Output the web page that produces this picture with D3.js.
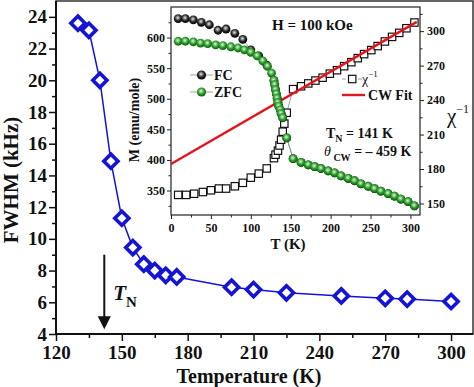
<!DOCTYPE html>
<html>
<head>
<meta charset="utf-8">
<script src="https://cdn.jsdelivr.net/npm/d3@7"></script>
<style>
body { margin: 0; background: #fff; }
svg text { font-family: "Liberation Serif", "Times New Roman", serif; font-weight: bold; fill: #111; }
</style>
</head>
<body>
<div class="wrapper"></div>
<script>
// main plot: NMR linewidth vs temperature
var tempK = [130, 135, 140, 145, 150, 155, 160, 165, 170, 175, 200, 210, 225, 250, 270, 280, 300];
var fwhm = [23.6, 23.15, 20.0, 14.9, 11.3, 9.45, 8.4, 8.0, 7.7, 7.6, 6.95, 6.8, 6.6, 6.4, 6.25, 6.2, 6.05];
var xTicks = [120, 150, 180, 210, 240, 270, 300];
var yTicks = [4, 6, 8, 10, 12, 14, 16, 18, 20, 22, 24];
var tnArrow = [142, 9.0, 4.3]; // T, from, to

// inset: magnetisation FC / ZFC and inverse susceptibility
var fcT = [9, 18, 28, 38, 48, 59, 69, 80, 90, 100, 110, 120, 129, 130, 131, 132, 133, 134, 135, 137, 138, 140, 145,
  153, 163, 172, 180, 188, 197, 205, 213, 222, 230, 238, 247, 255, 263, 272, 280, 288, 297, 305];
var fcM = [631, 631, 629, 625, 621, 612, 614, 607, 597, 580, 570, 555, 530, 523, 515, 508, 501, 494, 488, 482, 476, 469, 436,
  402, 396, 392, 389, 386, 382, 379, 374, 370, 366, 361, 357, 353, 349, 345, 341, 336, 332, 325];
var zfcT = [9, 18, 28, 37, 46, 56, 65, 75, 84, 92, 100, 108, 115, 121, 126,
  129, 130, 131, 132, 133, 134, 135, 137, 138, 140, 145,
  153, 163, 172, 180, 188, 197, 205, 213, 222, 230, 238, 247, 255, 263, 272, 280, 288, 297, 305];
var zfcM = [594, 594, 593, 591, 590, 588, 587, 585, 583, 580, 576, 570, 562, 553, 542,
  530, 523, 515, 508, 501, 494, 488, 482, 476, 469, 436,
  402, 396, 392, 389, 386, 382, 379, 374, 370, 366, 361, 357, 353, 349, 345, 341, 336, 332, 325];
var chiT = [9, 19, 29, 40, 50, 60, 69, 80, 90, 100, 110, 120,
  129, 131, 134, 136, 138, 140, 142, 145,
  153, 163, 172, 181, 190, 199, 208, 217, 226, 234, 242, 251, 259, 268, 277, 286, 295, 305];
var chiInv = [157.5, 157.5, 158.5, 160, 161.5, 163, 163, 165, 168, 172.5, 176, 180.5,
  189.5, 192.5, 196, 200.5, 205.5, 212.5, 219.5, 229,
  249.5, 252, 254.5, 257, 259.5, 263, 266, 269.5, 273, 276.5, 280, 283.5, 287, 291, 295, 298.5, 302.5, 307.5];
var cwTheta = -459, cwC = 2.49, cwRange = [0, 308];
var insetXTicks = [0, 50, 100, 150, 200, 250, 300];
var insetMTicks = [350, 400, 450, 500, 550, 600];
var insetChiTicks = [150, 180, 210, 240, 270, 300];

var BLUE = "#1414d6", RED = "#e3141c";

var svg = d3.select(".wrapper")
  .append("svg")
    .attr("width", 474)
    .attr("height", 387);

var defs = svg.append("defs");
function ball(id, c0, c1, c2) {
  var g = defs.append("radialGradient").attr("id", id)
    .attr("cx", "45%").attr("cy", "40%").attr("r", "60%");
  g.append("stop").attr("offset", "0%").attr("stop-color", c0);
  g.append("stop").attr("offset", "55%").attr("stop-color", c1);
  g.append("stop").attr("offset", "100%").attr("stop-color", c2);
}
ball("gBlack", "#e8e8e8", "#2a2a2a", "#000");
ball("gGreen", "#e6f5e0", "#2c9e2c", "#0b5a0b");

// ---------- main plot ----------
var x = d3.scaleLinear().domain([120, 310]).range([56, 473]);
var y = d3.scaleLinear().domain([4, 25]).range([334, 1]);

svg.append("rect")
  .attr("x", x.range()[0]).attr("y", y.range()[1])
  .attr("width", x.range()[1] - x.range()[0])
  .attr("height", y.range()[0] - y.range()[1])
  .attr("fill", "none").attr("stroke", "#333").attr("stroke-width", 1.5);

function styleAxis(g, size) {
  g.select(".domain").remove();
  g.selectAll("line").attr("stroke", "#111").attr("stroke-width", 1.5);
  g.selectAll("text").style("font-size", size + "px").attr("fill", "#111");
}

var minorX = d3.range(135, 310, 30);
svg.append("g").attr("transform", "translate(0," + y.range()[0] + ")")
  .call(d3.axisBottom(x).tickValues(minorX).tickSize(4).tickFormat(""))
  .call(styleAxis, 19);
svg.append("g").attr("transform", "translate(0," + y.range()[0] + ")")
  .call(d3.axisBottom(x).tickValues(xTicks).tickSize(7).tickPadding(5))
  .call(styleAxis, 19);

var minorY = d3.range(5, 25, 2);
svg.append("g").attr("transform", "translate(" + x.range()[0] + ",0)")
  .call(d3.axisLeft(y).tickValues(minorY).tickSize(4).tickFormat(""))
  .call(styleAxis, 19);
svg.append("g").attr("transform", "translate(" + x.range()[0] + ",0)")
  .call(d3.axisLeft(y).tickValues(yTicks).tickSize(7).tickPadding(2))
  .call(styleAxis, 19);

// axis lines
svg.append("line").attr("x1", 56).attr("x2", 473).attr("y1", 334).attr("y2", 334)
  .attr("stroke", "#111").attr("stroke-width", 2);
svg.append("line").attr("x1", 56).attr("x2", 56).attr("y1", 1).attr("y2", 334)
  .attr("stroke", "#111").attr("stroke-width", 2);

svg.append("text").attr("x", 249).attr("y", 383)
  .attr("text-anchor", "middle").style("font-size", "20px")
  .text("Temperature (K)");
svg.append("text").attr("transform", "translate(18,180) rotate(-90)")
  .attr("text-anchor", "middle").style("font-size", "21px")
  .text("FWHM (kHz)");

var mainData = tempK.map(function(t, i) { return [t, fwhm[i]]; });
svg.append("path").datum(mainData)
  .attr("d", d3.line().x(function(d) { return x(d[0]); }).y(function(d) { return y(d[1]); }))
  .attr("fill", "none").attr("stroke", BLUE).attr("stroke-width", 1.5);
svg.selectAll(".dia").data(mainData).enter().append("path")
  .attr("class", "dia")
  .attr("d", d3.symbol(d3.symbolSquare, 100))
  .attr("transform", function(d) { return "translate(" + x(d[0]) + "," + y(d[1]) + ") rotate(45)"; })
  .attr("fill", "#fff").attr("stroke", BLUE).attr("stroke-width", 3.6);

// T_N arrow
var ax = x(tnArrow[0]);
svg.append("line").attr("x1", ax).attr("x2", ax)
  .attr("y1", y(tnArrow[1])).attr("y2", y(tnArrow[2]) - 10)
  .attr("stroke", "#111").attr("stroke-width", 2);
svg.append("path")
  .attr("d", "M" + (ax - 6.5) + "," + (y(tnArrow[2]) - 13) + "L" + (ax + 6.5) + "," + (y(tnArrow[2]) - 13) +
    "L" + ax + "," + y(tnArrow[2]) + "Z")
  .attr("fill", "#111");
var tnl = svg.append("text").attr("x", ax + 9).attr("y", 300).style("font-size", "21px");
tnl.append("tspan").style("font-style", "italic").text("T");
tnl.append("tspan").attr("dy", 7).style("font-size", "15px").text("N");

// ---------- inset ----------
var ix = d3.scaleLinear().domain([0, 312]).range([171, 420]);
var iy = d3.scaleLinear().domain([310, 650]).range([215, 7]);
var iy2 = d3.scaleLinear().domain([140, 321]).range([215, 7]);

var inset = svg.append("g");
inset.append("rect")
  .attr("x", 171).attr("y", 7).attr("width", 249).attr("height", 208)
  .attr("fill", "#fff").attr("stroke", "#222").attr("stroke-width", 1.2);

function styleInset(g) {
  g.select(".domain").remove();
  g.selectAll("line").attr("stroke", "#222").attr("stroke-width", 1);
  g.selectAll("text").style("font-size", "12px").attr("fill", "#111");
}
inset.append("g").attr("transform", "translate(0,215)")
  .call(d3.axisBottom(ix).tickValues(d3.range(25, 312, 50)).tickSize(2.5).tickFormat(""))
  .call(styleInset);
inset.append("g").attr("transform", "translate(0,215)")
  .call(d3.axisBottom(ix).tickValues(insetXTicks).tickSize(4).tickPadding(4))
  .call(styleInset);
inset.append("g").attr("transform", "translate(171,0)")
  .call(d3.axisLeft(iy).tickValues(d3.range(325, 650, 50)).tickSize(2.5).tickFormat(""))
  .call(styleInset);
inset.append("g").attr("transform", "translate(171,0)")
  .call(d3.axisLeft(iy).tickValues(insetMTicks).tickSize(4).tickPadding(2))
  .call(styleInset);
inset.append("g").attr("transform", "translate(420,0)")
  .call(d3.axisRight(iy2).tickValues(d3.range(165, 321, 30)).tickSize(2.5).tickFormat(""))
  .call(styleInset);
inset.append("g").attr("transform", "translate(420,0)")
  .call(d3.axisRight(iy2).tickValues(insetChiTicks).tickSize(4).tickPadding(3))
  .call(styleInset);

inset.append("text").attr("x", 288).attr("y", 249)
  .attr("text-anchor", "middle").style("font-size", "15px").text("T (K)");
inset.append("text").attr("transform", "translate(139,120) rotate(-90)")
  .attr("text-anchor", "middle").style("font-size", "14px").text("M (emu/mole)");
var chiLab = inset.append("text").attr("x", 447).attr("y", 123)
  .style("font-size", "21px").style("font-weight", "normal");
chiLab.append("tspan").text("\u03C7");
chiLab.append("tspan").attr("dy", -10).style("font-size", "12px").text("\u22121");

// CW fit
var cw = cwRange.map(function(t) { return [t, (t - cwTheta) / cwC]; });
var lineGray = function(sx, sy) {
  return d3.line().x(function(d) { return sx(d[0]); }).y(function(d) { return sy(d[1]); });
};

var fc = fcT.map(function(t, i) { return [t, fcM[i]]; });
var zfc = zfcT.map(function(t, i) { return [t, zfcM[i]]; });
var chi = chiT.map(function(t, i) { return [t, chiInv[i]]; });

[[chi, iy2], [fc, iy], [zfc, iy]].forEach(function(s) {
  inset.append("path").datum(s[0]).attr("d", lineGray(ix, s[1]))
    .attr("fill", "none").attr("stroke", "#888").attr("stroke-width", 0.8);
});

inset.selectAll(".sq").data(chi).enter().append("rect").attr("class", "sq")
  .attr("x", function(d) { return ix(d[0]) - 3.7; })
  .attr("y", function(d) { return iy2(d[1]) - 3.7; })
  .attr("width", 7.4).attr("height", 7.4)
  .attr("fill", "#fff").attr("stroke", "#111").attr("stroke-width", 1.2);

inset.append("path").datum(cw).attr("d", lineGray(ix, iy2))
  .attr("stroke", RED).attr("stroke-width", 2.4).attr("fill", "none");

inset.selectAll(".fc").data(fc).enter().append("circle").attr("class", "fc")
  .attr("cx", function(d) { return ix(d[0]); }).attr("cy", function(d) { return iy(d[1]); })
  .attr("r", 4.4).attr("fill", "url(#gBlack)");
inset.selectAll(".zfc").data(zfc).enter().append("circle").attr("class", "zfc")
  .attr("cx", function(d) { return ix(d[0]); }).attr("cy", function(d) { return iy(d[1]); })
  .attr("r", 4.4).attr("fill", "url(#gGreen)");

// legends
[["FC", "url(#gBlack)", 75], ["ZFC", "url(#gGreen)", 92]].forEach(function(l) {
  inset.append("line").attr("x1", 190).attr("x2", 213).attr("y1", l[2]).attr("y2", l[2])
    .attr("stroke", "#888").attr("stroke-width", 0.8);
  inset.append("circle").attr("cx", 201.5).attr("cy", l[2]).attr("r", 4.6).attr("fill", l[1]);
  inset.append("text").attr("x", 214).attr("y", l[2] + 5).style("font-size", "14px").text(l[0]);
});

inset.append("line").attr("x1", 342).attr("x2", 362).attr("y1", 79).attr("y2", 79)
  .attr("stroke", "#888").attr("stroke-width", 0.8).attr("stroke-dasharray", "4,12");
inset.append("rect").attr("x", 348.5).attr("y", 75.3).attr("width", 7.4).attr("height", 7.4)
  .attr("fill", "#fff").attr("stroke", "#111").attr("stroke-width", 1.2);
var chiLeg = inset.append("text").attr("x", 362).attr("y", 84)
  .style("font-size", "14px").style("font-weight", "normal");
chiLeg.append("tspan").text("\u03C7");
chiLeg.append("tspan").attr("dy", -7).style("font-size", "9px").text("\u22121");

inset.append("line").attr("x1", 342).attr("x2", 365).attr("y1", 95).attr("y2", 95)
  .attr("stroke", RED).attr("stroke-width", 2.4);
inset.append("text").attr("x", 368).attr("y", 100).style("font-size", "14px").text("CW Fit");

inset.append("text").attr("x", 272).attr("y", 30).style("font-size", "15px").text("H = 100 kOe");

var t1 = inset.append("text").attr("x", 326).attr("y", 138).style("font-size", "14px");
t1.append("tspan").text("T");
t1.append("tspan").attr("dy", 4).style("font-size", "10px").text("N");
t1.append("tspan").attr("dy", -4).text(" = 141 K");

var t2 = inset.append("text").attr("x", 324).attr("y", 156).style("font-size", "14px");
t2.append("tspan").style("font-style", "italic").style("font-weight", "normal").text("\u03B8");
t2.append("tspan").attr("dy", 5).style("font-size", "10px").text(" CW");
t2.append("tspan").attr("dy", -5).text(" = \u2013 459 K");
</script>
</body>
</html>
